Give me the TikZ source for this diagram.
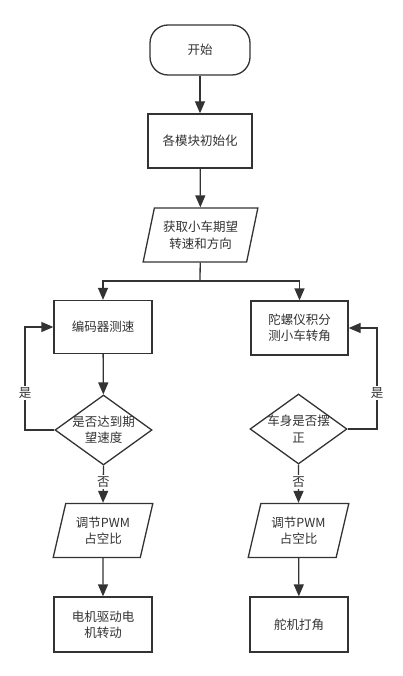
\documentclass[tikz,border=0pt]{standalone}
\usepackage{fontspec}
\setmainfont{Noto Sans CJK SC}
\usetikzlibrary{shapes.geometric,arrows.meta}
\definecolor{lc}{HTML}{333333}
\definecolor{tc}{HTML}{333333}
\begin{document}
\begin{tikzpicture}[x=1pt,y=-1pt,
  txt/.style={text=tc, font=\fontsize{12.5}{16.5}\selectfont, align=center},
  line/.style={draw=lc, line width=1.3pt},
  arr/.style={line, -{Triangle[length=12pt,width=10pt]}},
  startbox/.style={txt, draw=lc, line width=1.3pt, rectangle, rounded corners=18pt, minimum width=100pt, minimum height=50pt},
  box/.style={txt, draw=lc, line width=1.3pt, rectangle, minimum width=98pt, minimum height=54pt, inner sep=0pt},
  iobox/.style={txt, draw=lc, line width=1.3pt, trapezium, trapezium left angle=72, trapezium right angle=108, trapezium stretches=true, minimum height=54pt, inner sep=0pt},
  decide/.style={draw=lc, line width=1.3pt, diamond, minimum width=97pt, minimum height=70pt, inner sep=0pt},
  lbl/.style={txt, fill=white, inner sep=1.5pt}
]
\useasboundingbox (0,0) rectangle (402,676);
\fill[white] (0,0) rectangle (402,676);

\node[startbox] (start) at (200,50) {开始};
\node[box, minimum width=104pt] (init) at (200,141) {各模块初始化};
\node[iobox, minimum width=115pt] (input) at (200.5,235) {获取小车期望\\转速和方向};
\coordinate (split) at (200,281);

\node[box, minimum height=53pt] (enc) at (103,327) {编码器测速};
\node[decide, label={[txt]center:是否达到期\\望速度}] (d1) at (103.5,430) {};
\node[iobox, minimum width=100pt] (p1) at (103,530.5) {调节PWM\\占空比};
\node[box, minimum height=55pt] (motor) at (103,624.5) {电机驱动电\\机转动};
\coordinate (c1) at (25,430);

\node[box, minimum width=97pt] (gyro) at (299.5,328) {陀螺仪积分\\测小车转角};
\node[decide, label={[txt]center:车身是否摆\\正}] (d2) at (298.5,429) {};
\node[iobox, minimum width=101pt] (p2) at (298.5,530.5) {调节PWM\\占空比};
\node[box, minimum height=55pt] (steer) at (299,624.5) {舵机打角};
\coordinate (c2) at (377,429);

\draw[arr] (start) -- (init);
\draw[arr] (init) -- (input);
\draw[line] (input) -- (split);
\draw[arr] (split) -| (enc.north);
\draw[arr] (split) -| (gyro.north);

\draw[arr] (enc) -- (d1);
\draw[arr] (d1.west) -- (c1) |- node[lbl, pos=0.18] (yes1) {是} (enc.west);
\draw[arr] (d1.south) -- node[lbl, pos=0.45] (no1) {否} (p1.north);
\draw[arr] (p1) -- (motor);

\draw[arr] (d2.east) -- (c2) |- node[lbl, pos=0.18] (yes2) {是} (gyro.east);
\draw[arr] (d2.south) -- node[lbl, pos=0.45] (no2) {否} (p2.north);
\draw[arr] (p2) -- (steer);
\end{tikzpicture}
\end{document}
